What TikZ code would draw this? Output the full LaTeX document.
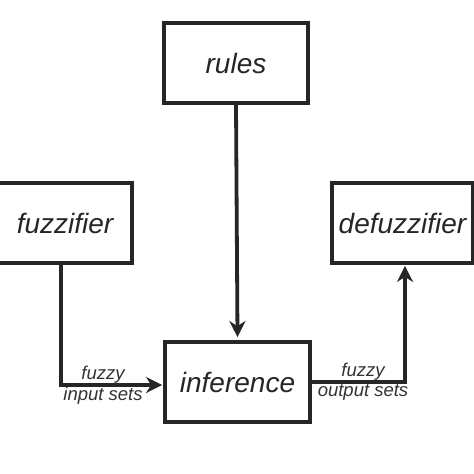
\documentclass[tikz,border=0pt]{standalone}
\usepackage{fontspec}
\setmainfont{Liberation Sans}
\usetikzlibrary{arrows.meta}
\begin{document}
\begin{tikzpicture}[x=1pt,y=-1pt,
  blk/.style={draw=black!85, line width=3.8pt, minimum width=#1, minimum height=80pt, inner sep=0pt, font=\fontsize{28}{30}\selectfont\itshape, text=black!85},
  blk/.default=144pt,
  conn/.style={draw=black!85, line width=3.8pt, -{Stealth[length=16pt,width=16pt,inset=5pt]}},
  lbl/.style={font=\fontsize{18.5}{19}\selectfont\itshape, text=black!80, inner sep=0pt}]
\useasboundingbox (0,0) rectangle (474,474);
\fill[white] (0,0) rectangle (474,474);
\node[blk=144pt] (rules) at (236,63) {rules};
\node[blk=134pt] (fuzz) at (65,223) {fuzzifier};
\node[blk=141pt] (defuzz) at (402.5,223) {defuzzifier};
\node[blk=145pt] (inf) at (237.5,382) {inference};
\coordinate (c1) at (61,385);
\coordinate (c2) at (405,382);
\draw[conn] (rules.south) -- ([yshift=3pt]inf.north);
\draw[conn] (fuzz.south -| c1) -- (c1) -- ([yshift=-3pt,xshift=-1pt]inf.west);
\draw[conn] (inf.east) -- (c2) -- ([yshift=-1pt]c2 |- defuzz.south);
\node[lbl] (l1) at (103,375) {fuzzy};
\node[lbl] (l2) at (103,396) {input sets};
\node[lbl] (l3) at (363,372) {fuzzy};
\node[lbl] (l4) at (363,392) {output sets};
\end{tikzpicture}
\end{document}
